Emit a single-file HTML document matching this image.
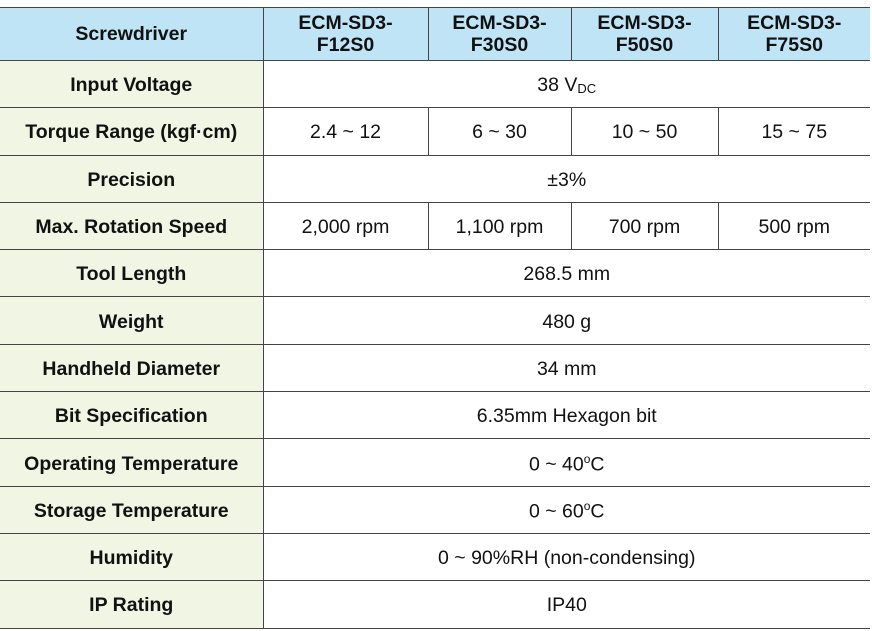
<!DOCTYPE html>
<html><head><style>
body{margin:0;width:872px;height:631px;background:#fff;font-family:"Liberation Sans",Arial,sans-serif;overflow:hidden}
table{position:absolute;left:0;top:7px;border-collapse:collapse;table-layout:fixed;width:870px}
td{border:1.5px solid #444;text-align:center;font-size:19.5px;color:#111;padding:3px 0 0 0;height:43.3px}
tr:first-child td{height:52px;padding:0;background:#bee4f6;font-weight:bold;line-height:22px}
td.l{background:#f1f5e4;font-weight:bold}
tr td:first-child{border-left:none}
tr td:last-child{border-right:none}
sub{font-size:13px;vertical-align:-2px}
</style></head><body>
<table>
<colgroup><col style="width:263px"><col style="width:165px"><col style="width:143px"><col style="width:147px"><col style="width:152px"></colgroup>
<tr><td>Screwdriver</td><td>ECM-SD3-<br>F12S0</td><td>ECM-SD3-<br>F30S0</td><td>ECM-SD3-<br>F50S0</td><td>ECM-SD3-<br>F75S0</td></tr>
<tr><td class="l">Input Voltage</td><td colspan="4">38 V<sub>DC</sub></td></tr>
<tr><td class="l">Torque Range (kgf·cm)</td><td>2.4 ~ 12</td><td>6 ~ 30</td><td>10 ~ 50</td><td>15 ~ 75</td></tr>
<tr><td class="l">Precision</td><td colspan="4">±3%</td></tr>
<tr><td class="l">Max. Rotation Speed</td><td>2,000 rpm</td><td>1,100 rpm</td><td>700 rpm</td><td>500 rpm</td></tr>
<tr><td class="l">Tool Length</td><td colspan="4">268.5 mm</td></tr>
<tr><td class="l">Weight</td><td colspan="4">480 g</td></tr>
<tr><td class="l">Handheld Diameter</td><td colspan="4">34 mm</td></tr>
<tr><td class="l">Bit Specification</td><td colspan="4">6.35mm Hexagon bit</td></tr>
<tr><td class="l">Operating Temperature</td><td colspan="4">0 ~ 40<sup style="font-size:12px">o</sup>C</td></tr>
<tr><td class="l">Storage Temperature</td><td colspan="4">0 ~ 60<sup style="font-size:12px">o</sup>C</td></tr>
<tr><td class="l">Humidity</td><td colspan="4">0 ~ 90%RH (non-condensing)</td></tr>
<tr><td class="l">IP Rating</td><td colspan="4">IP40</td></tr>
</table>
</body></html>
